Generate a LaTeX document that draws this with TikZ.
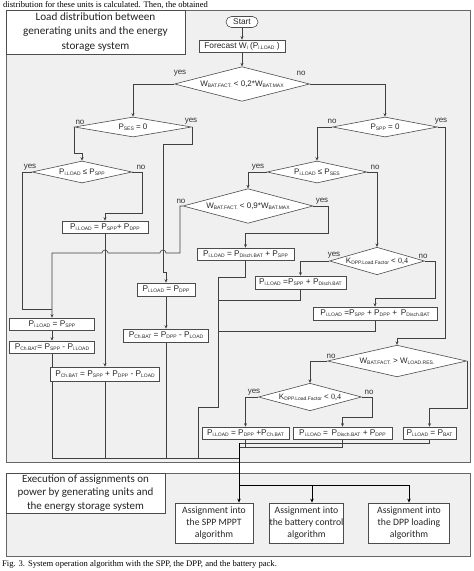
\documentclass[tikz,border=0pt]{standalone}
\usepackage{fontspec}
\setmainfont{Liberation Sans}
\newfontfamily\calibrifont{Carlito}
\newfontfamily\timesfont{Liberation Serif}
\usetikzlibrary{shapes.geometric,arrows.meta}
\newcommand\Sub[1]{\raisebox{-1.2pt}{\fontsize{5}{5}\selectfont #1}}
\pgfdeclarelayer{bg}
\pgfdeclarelayer{lines}
\pgfsetlayers{bg,lines,main}
\tikzset{
  panel/.style={draw=black!60, line width=1pt, fill=black!6},
  tbox/.style={draw=black!70, line width=0.8pt, fill=white, align=center, inner sep=0pt, text=black!85},
  bx/.style={draw=black!70, line width=0.6pt, fill=white, inner sep=0pt, minimum height=12pt, font=\fontsize{8.3}{10}\selectfont, text=black!85},
  dm/.style={diamond, aspect=3, draw=black!70, line width=0.6pt, fill=white, inner sep=0pt, font=\fontsize{8}{10}\selectfont, text=black!85},
  ln/.style={draw=black!75, line width=0.6pt},
  ar/.style={ln, -{Stealth[length=3.5pt,width=3pt]}},
  trunk/.style={draw=black, line width=1pt},
  trunkar/.style={trunk, -{Stealth[length=4pt,width=3.5pt]}},
  lbl/.style={font=\fontsize{8}{9}\selectfont, inner sep=0pt, text=black!80},
}
\begin{document}
\begin{tikzpicture}[x=1pt,y=-1pt]
\path[use as bounding box] (0,0) rectangle (474,571);
\clip (0,0) rectangle (474,571);
\begin{pgfonlayer}{bg}
\fill[white] (0,0) rectangle (474,571);
\draw[panel] (6,10) rectangle (470,462);
\draw[panel] (6,473) rectangle (470,556);
\end{pgfonlayer}

\node[anchor=base west, font=\timesfont\fontsize{8.6}{9}\selectfont, inner sep=0pt] (toptext) at (3,7) {distribution for these units is calculated. Then, the obtained};
\node[anchor=base west, font=\timesfont\fontsize{8.6}{9}\selectfont, inner sep=0pt] (cap) at (2,566) {Fig. 3. System operation algorithm with the SPP, the DPP, and the battery pack.};

% title boxes
\node[tbox, minimum width=179pt, minimum height=44pt, font=\calibrifont\fontsize{11.2}{14.5}\selectfont] (t1) at (95.5,32) {Load distribution between\\generating units and the energy\\storage system};
\node[tbox, minimum width=159pt, minimum height=40pt, font=\calibrifont\fontsize{11}{13.5}\selectfont] (t2) at (85.5,493) {Execution of assignments on\\power by generating units and\\the energy storage system};

% assignment boxes
\tikzset{abox/.style={tbox, minimum height=40pt, font=\calibrifont\fontsize{9.7}{11.7}\selectfont}}
\node[abox, minimum width=78pt] (a1) at (214,523) {Assignment into\\the SPP MPPT\\algorithm};
\node[abox, minimum width=71pt] (a2) at (306.5,523) {Assignment into\\the battery control\\algorithm};
\node[abox, minimum width=81pt] (a3) at (409,523) {Assignment into\\the DPP loading\\algorithm};

% flowchart nodes
\node[bx, rounded corners=5.5pt, minimum width=32pt, minimum height=11pt] (start) at (242,22) {Start};
\node[bx, minimum width=86pt] (fc) at (242,46) {Forecast W\Sub{i} (P\Sub{i.LOAD} )};
\node[dm, minimum width=135pt, minimum height=25pt] (d1) at (242,84) {W\Sub{BAT.FACT.} < 0,2*W\Sub{BAT.MAX}};
\node[dm, minimum width=117pt, minimum height=20pt] (d2) at (133,127) {P\Sub{SES} = 0};
\node[dm, minimum width=105pt, minimum height=20pt] (d3) at (385,127) {P\Sub{SPP} = 0};
\node[dm, minimum width=100pt, minimum height=21pt] (d4) at (82,172) {P\Sub{i.LOAD} ≤ P\Sub{SPP}};
\node[dm, minimum width=100pt, minimum height=21pt] (d6) at (317,172) {P\Sub{i.LOAD} ≤ P\Sub{SES}};
\node[dm, minimum width=130pt, minimum height=24pt] (d5) at (248,206) {W\Sub{BAT.FACT.} < 0,9*W\Sub{BAT.MAX}};
\node[dm, minimum width=95pt, minimum height=21pt] (d7) at (377,261) {K\Sub{DPP.Load.Factor} < {\timesfont 0,4}};
\node[dm, minimum width=139pt, minimum height=24pt] (d8) at (397,361) {W\Sub{BAT.FACT.} > W\Sub{LOAD.RES.}};
\node[dm, minimum width=103pt, minimum height=23pt] (d9) at (310,397) {K\Sub{DPP.Load.Factor} < {\timesfont 0,4}};

\node[bx, minimum width=86pt] (bsd) at (105,227) {P\Sub{i.LOAD} = P\Sub{SPP}+ P\Sub{DPP}};
\node[bx, minimum width=97pt] (bdis) at (245.5,254) {P\Sub{i.LOAD} = P\Sub{Disch.BAT} + P\Sub{SPP}};
\node[bx, minimum width=91pt, minimum height=13pt] (bsdis) at (300.5,282.5) {P\Sub{i.LOAD} =P\Sub{SPP} + P\Sub{Disch.BAT}};
\node[bx, minimum width=58pt, minimum height=13pt] (bdpp) at (166,289.5) {P\Sub{i.LOAD} = P\Sub{DPP}};
\node[bx, minimum width=124pt, minimum height=13pt] (ball) at (375,313.5) {P\Sub{i.LOAD} =P\Sub{SPP} + P\Sub{DPP} + \,P\Sub{Disch.BAT}};
\node[bx, minimum width=85pt] (bspp) at (52,324) {P\Sub{i.LOAD} = P\Sub{SPP}};
\node[bx, minimum width=85pt, minimum height=13pt] (bchd) at (166,335.5) {P\Sub{Ch.BAT} = P\Sub{DPP} - P\Sub{LOAD}};
\node[bx, minimum width=85pt] (bchs) at (52,347) {P\Sub{Ch.BAT}= P\Sub{SPP} - P\Sub{i.LOAD}};
\node[bx, minimum width=109pt, minimum height=14pt] (bcha) at (105,374) {P\Sub{Ch.BAT} = P\Sub{SPP} + P\Sub{DPP} - P\Sub{LOAD}};
\node[bx, minimum width=87pt] (bdc) at (245.5,433) {P\Sub{i.LOAD} = P\Sub{DPP} +P\Sub{Ch.BAT}};
\node[bx, minimum width=99pt] (bdd) at (342.5,433) {P\Sub{i.LOAD} = \,P\Sub{Disch.BAT} + P\Sub{DPP}};
\node[bx, minimum width=53pt] (bbat) at (429.5,433) {P\Sub{i.LOAD} = P\Sub{BAT}};

% labels
\node[lbl] (l1y) at (180,73) {yes};
\node[lbl] (l1n) at (301,73) {no};
\node[lbl] (l2n) at (80,122) {no};
\node[lbl] (l2y) at (191,121) {yes};
\node[lbl] (l3n) at (332,121) {no};
\node[lbl] (l3y) at (441,121) {yes};
\node[lbl] (l4y) at (30,167) {yes};
\node[lbl] (l4n) at (141,167) {no};
\node[lbl] (l6y) at (258,167) {yes};
\node[lbl] (l6n) at (375,167) {no};
\node[lbl] (l5n) at (181,201) {no};
\node[lbl] (l5y) at (322,201) {yes};
\node[lbl] (l7y) at (334,255) {yes};
\node[lbl] (l7n) at (423,256) {no};
\node[lbl] (l8n) at (331,356) {no};
\node[lbl] (l9y) at (254,392) {yes};
\node[lbl] (l9n) at (369,392) {no};

\coordinate (colL) at (52,458);
\coordinate (colR) at (239,458);
\coordinate (jn) at (239,485);

\begin{pgfonlayer}{lines}
\draw[ar] (start) -- (fc);
\draw[ar] (fc) -- (d1);
\draw[ar] (d1.west) -| (d2.north);
\draw[ar] (d1.east) -| (d3.north);
\draw[ar] (d2.west) -- ++(0,26) -| (d4.north);
\draw[ar] (d2.east) -- (d2.east |- 0,144) -- (163,144) -- (163,272) -| (bdpp.north);
\draw[ln] (d4.west) -- (22,172) -- (22,309) -- (52,309);
\draw[ar] (d4.east) -- (142,172) -- (142,213) -| (bsd.north);
\draw[ar] (bsd) -- (bcha);
\draw[ln] (bcha.south) -- (105,458);
\draw[ar] (bspp) -- (bchs);
\draw[ln] (bchs.south) -- (colL);
\draw[ar] (bdpp) -- (bchd);
\draw[ln] (bchd.south) -- (166,458);
\draw[ln] (colL) -- (colR);
\draw[ar] (d5.west) -- (180,206) -- (180,253) -- (166,253) arc[start angle=0,end angle=180,radius=3pt] -- (108,253) arc[start angle=0,end angle=180,radius=3pt] -- (52,253) -- (bspp.north);
\draw[ar] (d3.west) -| (d6.north);
\draw[ar] (d3.east) -- (445,127) -- (445,338) -| (d8.north);
\draw[ar] (d6.west) -| (d5.north);
\draw[ar] (d6.east) -| (d7.north);
\draw[ar] (d5.east) -- (328,206) -- (328,233) -| (bdis.north);
\draw[ar] (d7.west) -| (bsdis.north);
\draw[ar] (d7.east) -- (435,261) -- (435,298) -| (ball.north);
\draw[ln] (bdis.south) -- (245.5,277) -- (218,277) -- (218,407) -- (198,407) -- (198,458);
\draw[ln] (bsdis.south) -- (300.5,300) -- (218,300);
\draw[ln] (ball.south) -- (375,331) -- (218,331);
\draw[ar] (d8.west) -- (310,361) -- (d9.north);
\draw[ar] (d8.east) -- (467,361) -- (467,408) -| (bbat.north);
\draw[ar] (d9.west) -| (bdc.north);
\draw[ar] (d9.east) -- (372,397) -- (372,417) -| (bdd.north);
\draw[ln] (bbat.south) -- (429.5,443) -- (239,443);
\draw[ln] (bdd.south) -- (342.5,447) -- (239,447);
\draw[ln] (bdc.south) -- (245.5,447);
\draw[trunk] (239,443) -- (jn);
\draw[trunk] (jn) -- (409,485);
\draw[trunkar] (jn) -- ([xshift=25pt]a1.north);
\draw[trunkar] (312,485) -- ([xshift=5.5pt]a2.north);
\draw[trunkar] (409,485) -- (a3.north);
\end{pgfonlayer}
\end{tikzpicture}
\end{document}
